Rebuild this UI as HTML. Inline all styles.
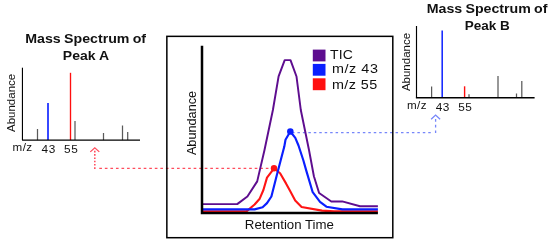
<!DOCTYPE html>
<html>
<head>
<meta charset="utf-8">
<title>Mass Spectrum Figure</title>
<style>
html,body{margin:0;padding:0;background:#fff;}
body{width:550px;height:242px;overflow:hidden;}
svg{display:block;}
text{font-family:"Liberation Sans",sans-serif;fill:#111;}
.t{font-weight:bold;font-size:13.2px;text-anchor:middle;}
.f{font-size:11px;letter-spacing:0.45px;}
.g{font-size:11.2px;letter-spacing:0.45px;}
.e{font-size:13.6px;letter-spacing:0.55px;}
.a{font-size:13px;text-anchor:middle;}
</style>
</head>
<body>
<svg width="550" height="242" viewBox="0 0 550 242">
<rect width="550" height="242" fill="#fff"/>

<!-- Spectrum A -->
<text class="t" transform="translate(85.7 43.4) scale(1.075 1)" style="word-spacing:-0.6px">Mass Spectrum of</text>
<text class="t" transform="translate(85.9 60.2) scale(1.062 1)">Peak A</text>
<g stroke="#5a5a5a" stroke-width="1.25">
<line x1="37.5" y1="129" x2="37.5" y2="140.1"/>
<line x1="75" y1="121" x2="75" y2="140.1"/>
<line x1="103.5" y1="133" x2="103.5" y2="140.1"/>
<line x1="122.5" y1="125.5" x2="122.5" y2="140.1"/>
<line x1="127.7" y1="132" x2="127.7" y2="140.1"/>
</g>
<line x1="48" y1="103" x2="48" y2="140.1" stroke="#1428ff" stroke-width="1.7"/>
<line x1="70.5" y1="72.8" x2="70.5" y2="140.1" stroke="#ff0f0f" stroke-width="1.35"/>
<path d="M22.45 67.7V140.1" fill="none" stroke="#000" stroke-width="1.15"/>
<path d="M22.1 140.1H140" fill="none" stroke="#000" stroke-width="1.45"/>
<text class="f" transform="translate(12.5 150.8) scale(1.058 1)">m/z</text>
<text class="g" transform="translate(41.6 152.6) scale(1.058 1)">43</text>
<text class="g" transform="translate(64.1 152.6) scale(1.058 1)">55</text>
<text class="a" transform="translate(15.4 102.9) rotate(-90)" style="font-size:11.5px">Abundance</text>

<!-- Spectrum B -->
<text class="t" transform="translate(487.1 13.4) scale(1.075 1)" style="word-spacing:-0.6px">Mass Spectrum of</text>
<text class="t" transform="translate(487.3 30.1) scale(1.025 1)">Peak B</text>
<g stroke="#5a5a5a" stroke-width="1.25">
<line x1="431.6" y1="86.5" x2="431.6" y2="98"/>
<line x1="469" y1="94.3" x2="469" y2="98"/>
<line x1="498" y1="76" x2="498" y2="98"/>
<line x1="516.5" y1="93.5" x2="516.5" y2="98"/>
<line x1="521.8" y1="81" x2="521.8" y2="98"/>
</g>
<line x1="442.2" y1="30.6" x2="442.2" y2="98" stroke="#1428ff" stroke-width="1.55"/>
<line x1="464.6" y1="86.3" x2="464.6" y2="98" stroke="#ff0f0f" stroke-width="1.4"/>
<path d="M416.5 26V97.8" fill="none" stroke="#000" stroke-width="1.15"/>
<path d="M415.9 97.8H534.6" fill="none" stroke="#000" stroke-width="1.45"/>
<text class="f" transform="translate(406.9 108.9) scale(1.058 1)">m/z</text>
<text class="g" transform="translate(435.8 110.5) scale(1.058 1)">43</text>
<text class="g" transform="translate(458.2 110.5) scale(1.058 1)">55</text>
<text class="a" transform="translate(410.4 62) rotate(-90)" style="font-size:11.5px">Abundance</text>

<!-- dashed arrows -->
<g fill="none" stroke="#ff4c5c" stroke-width="1.25">
<path d="M274 168.3H97" stroke-dasharray="2.65 2.9"/>
<path d="M94.8 168.9V150.8" stroke-dasharray="1.6 1.7" stroke-width="1.55"/>
<path d="M90.3 151.9L94.8 147.9L99.3 151.9" stroke-linejoin="miter"/>
</g>
<g fill="none" stroke="#7686fa" stroke-width="1.3">
<path d="M292 132.65H433.5" stroke-dasharray="2.5 2.95"/>
<path d="M435.6 133.1V116" stroke-dasharray="2.6 3.1"/>
<path d="M431.1 119.2L435.6 115.1L440.1 119.2" stroke-linejoin="miter"/>
</g>

<!-- Centre panel -->
<rect x="166.85" y="36.35" width="225.95" height="201.35" fill="none" stroke="#000" stroke-width="1.5"/>
<text class="a" transform="translate(196.2 123) rotate(-90)" style="font-size:12.7px">Abundance</text>
<text class="a" transform="translate(289.4 229.2) scale(1.02 1)">Retention Time</text>

<!-- legend -->
<rect x="312.8" y="49.6" width="12.7" height="11.8" fill="#5e0d8f"/>
<rect x="312.8" y="63.9" width="12.7" height="11.8" fill="#0a1fff"/>
<rect x="312.8" y="78.3" width="12.7" height="11.9" fill="#ff0f0f"/>
<text class="e" transform="translate(329.9 59.3) scale(1.03 1)" style="letter-spacing:0.2px">TIC</text>
<text class="e" transform="translate(331.9 73.2) scale(1.058 1)">m/z 43</text>
<text class="e" transform="translate(331.9 89.4) scale(1.058 1)" style="letter-spacing:0.4px">m/z 55</text>

<!-- curves -->
<g fill="none" stroke-linejoin="round" stroke-linecap="butt" stroke-width="1.95">
<polyline stroke="#5e0d8f" points="202,204.1 237.2,204.1 247.4,196.5 257.2,181.4 264.5,150 272.9,110 278.6,76.3 284.7,60.1 290.5,60.1 296.5,76.5 300.8,110 309,150 313.9,176.2 319.1,193 331.3,201.5 342.2,201.4 360,206.3 377.9,206.3"/>
<polyline stroke="#ff1414" stroke-width="2.1" points="202,211.4 246.5,211.4 254.6,204.5 259.7,198.7 263.4,190 267,177.6 271.4,171.8 274,168.3 280.1,173.3 286,183.4 290,190.7 295.2,200.6 301.6,207 322,210.6 334,211.4 377.9,211.4"/>
<polyline stroke="#0a1fff" stroke-width="2.15" points="202,209.4 254.6,209.4 262.6,207.2 267,203.1 271.4,196.5 277.3,173.3 284.3,146.6 285.5,139.7 290.3,131.5 295.3,137.9 298.5,145.5 303.4,160.5 306.2,170.4 312.7,192.2 320,201.8 326.4,206.7 342.4,209.4 377.9,209.4"/>
</g>
<circle cx="274" cy="168.3" r="3.2" fill="#ff1414"/>
<circle cx="290.3" cy="131.6" r="3.25" fill="#0a1fff"/>
<path d="M202 45.8V213.1H377.9" fill="none" stroke="#000" stroke-width="2.5" stroke-linejoin="miter"/>
</svg>
</body>
</html>
